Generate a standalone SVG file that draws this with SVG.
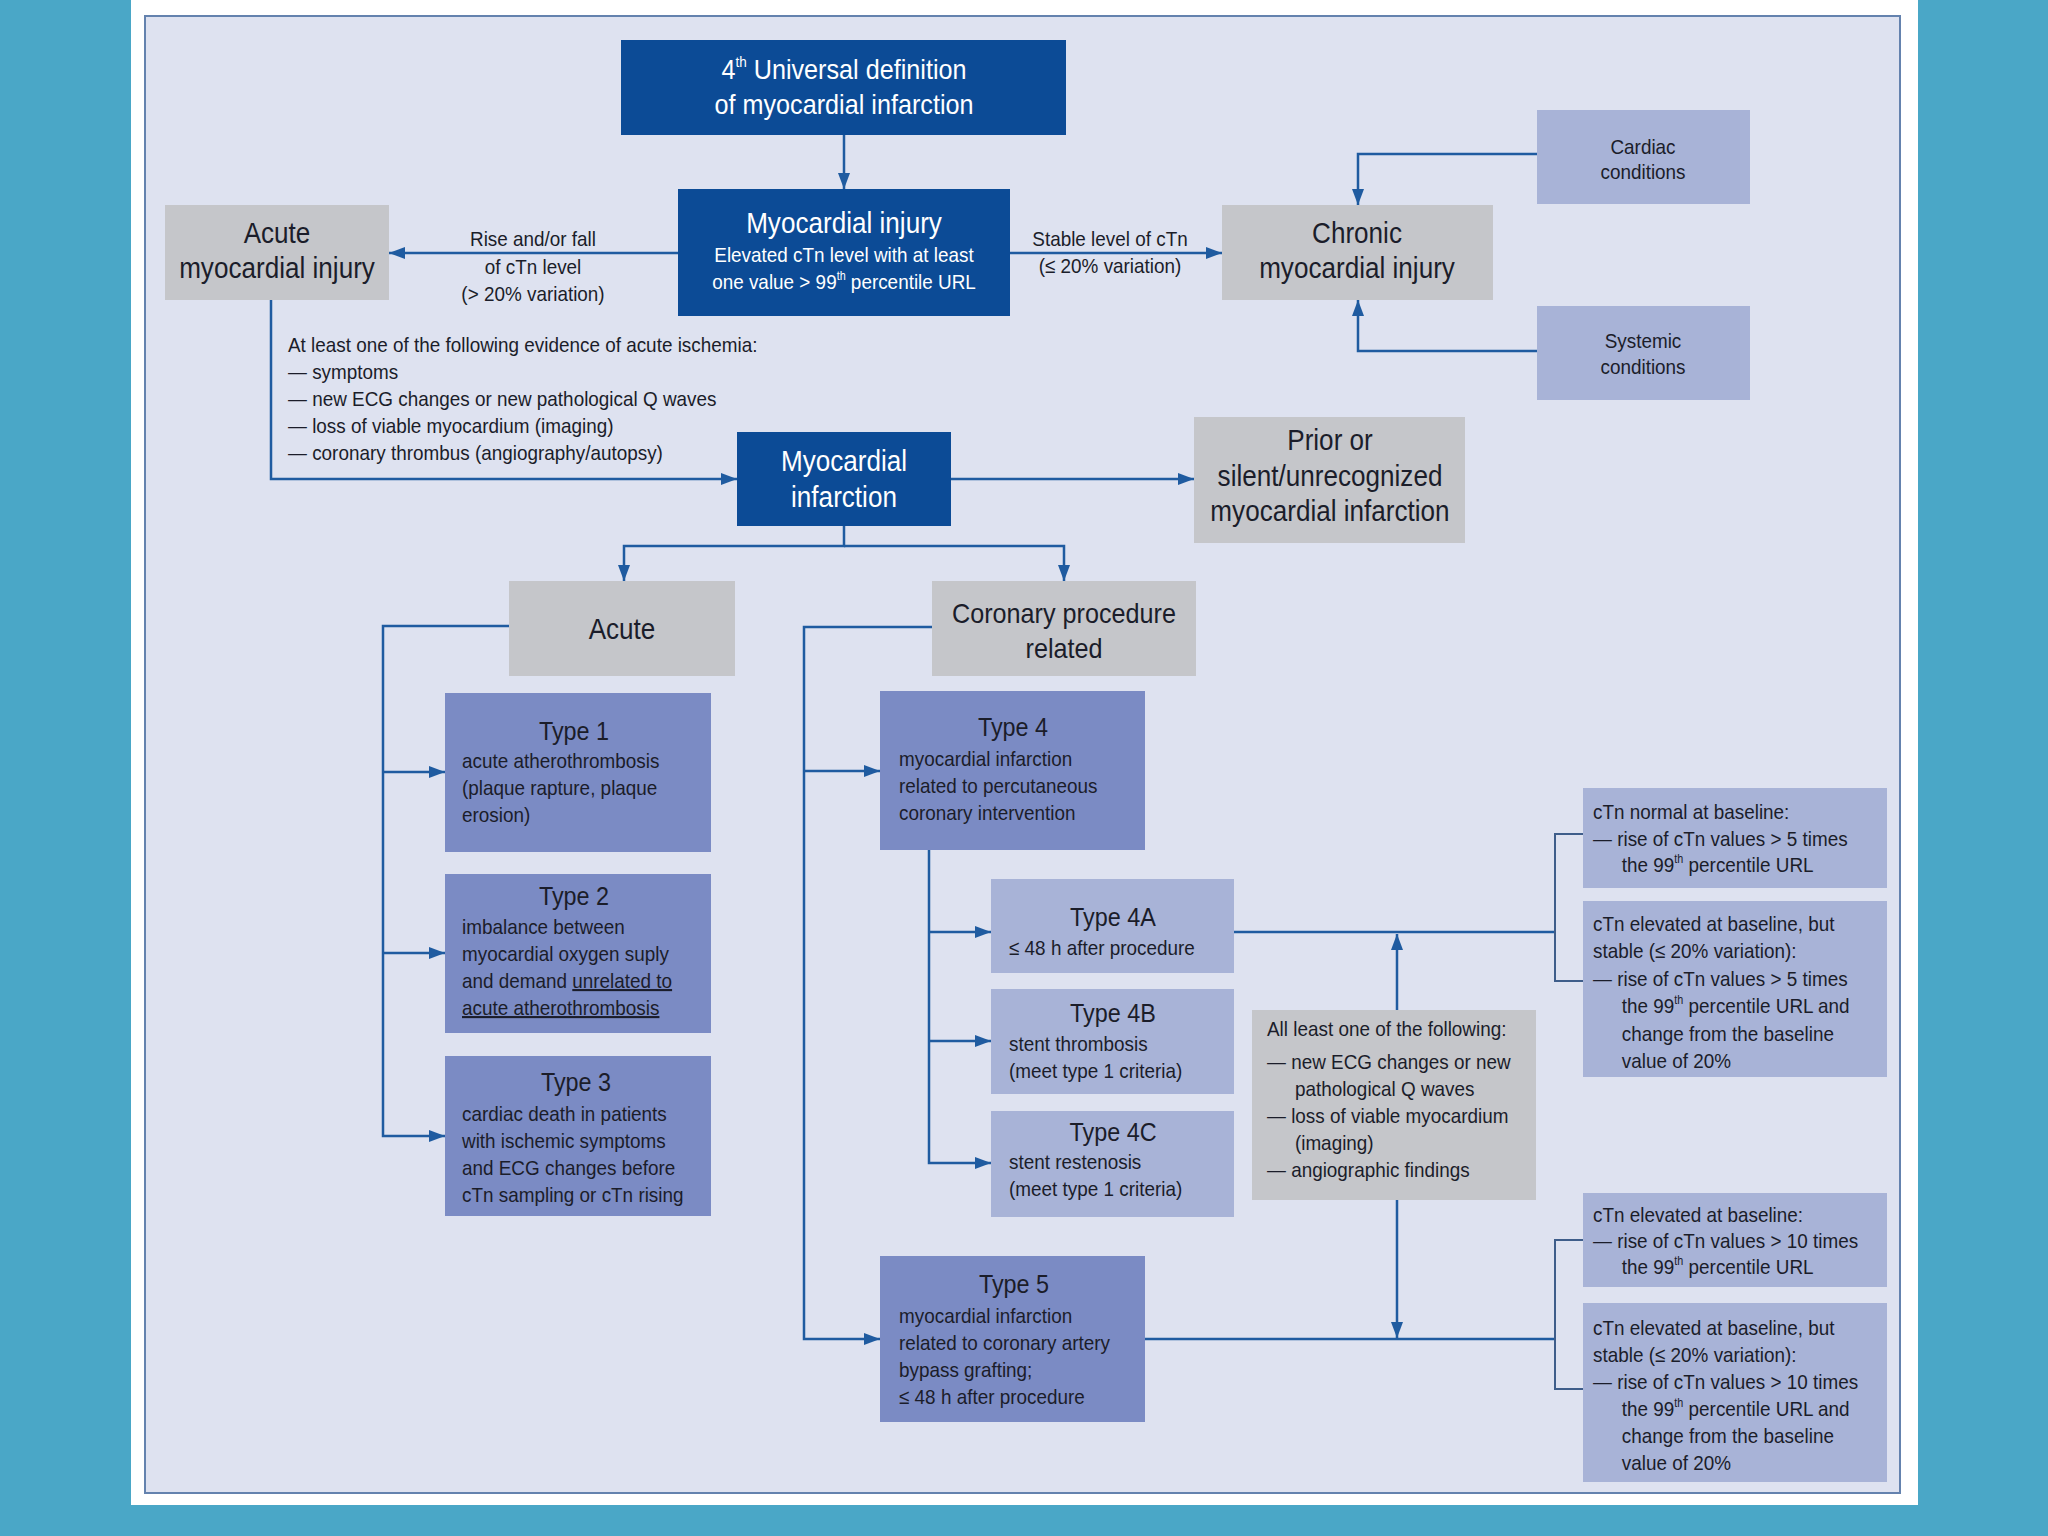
<svg xmlns="http://www.w3.org/2000/svg" width="2048" height="1536" viewBox="0 0 2048 1536">
<defs>
<style>
.t{font-family:"Liberation Sans",Arial,sans-serif}
.w{fill:#ffffff}
.d{fill:#1b1d2a}
.c{text-anchor:middle}
.dark{fill:#0c4b96}
.gray{fill:#c5c6ca}
.med{fill:#7b8bc4}
.lite{fill:#a8b3d7}
.ln{fill:none;stroke:#1f5ba0;stroke-width:2.5}
.br{fill:none;stroke:#3e5d8a;stroke-width:2}
</style>
<marker id="ah" viewBox="0 0 16 12" refX="16" refY="6" markerWidth="16" markerHeight="12" orient="auto" markerUnits="userSpaceOnUse">
<path d="M0,0 L16,6 L0,12 Z" fill="#1f5ba0"/>
</marker>
</defs>
<rect width="2048" height="1536" fill="#4aa7c7"/>
<rect x="131" y="0" width="1787" height="1505" fill="#ffffff"/>
<rect x="145" y="16" width="1755" height="1477" fill="#dee2f0" stroke="#6482ae" stroke-width="2"/>

<g id="connectors">
<line class="ln" x1="844" y1="135" x2="844" y2="189" marker-end="url(#ah)"/>
<line class="ln" x1="678" y1="253" x2="389" y2="253" marker-end="url(#ah)"/>
<line class="ln" x1="1010" y1="253" x2="1222" y2="253" marker-end="url(#ah)"/>
<polyline class="ln" points="1537,154 1358,154 1358,205" marker-end="url(#ah)"/>
<polyline class="ln" points="1537,351 1358,351 1358,300" marker-end="url(#ah)"/>
<polyline class="ln" points="271,300 271,479 737,479" marker-end="url(#ah)"/>
<line class="ln" x1="951" y1="479" x2="1194" y2="479" marker-end="url(#ah)"/>
<polyline class="ln" points="844,526 844,546 624,546 624,581" marker-end="url(#ah)"/>
<polyline class="ln" points="844,546 1064,546 1064,581" marker-end="url(#ah)"/>
<polyline class="ln" points="509,626 383,626 383,1136 445,1136" marker-end="url(#ah)"/>
<line class="ln" x1="383" y1="772" x2="445" y2="772" marker-end="url(#ah)"/>
<line class="ln" x1="383" y1="953" x2="445" y2="953" marker-end="url(#ah)"/>
<polyline class="ln" points="932,627 804,627 804,1339 880,1339" marker-end="url(#ah)"/>
<line class="ln" x1="804" y1="771" x2="880" y2="771" marker-end="url(#ah)"/>
<polyline class="ln" points="929,850 929,1163 991,1163" marker-end="url(#ah)"/>
<line class="ln" x1="929" y1="932" x2="991" y2="932" marker-end="url(#ah)"/>
<line class="ln" x1="929" y1="1041" x2="991" y2="1041" marker-end="url(#ah)"/>
<line class="ln" x1="1234" y1="932" x2="1555" y2="932"/>
<polyline class="br" points="1583,834 1555,834 1555,981 1583,981"/>
<line class="ln" x1="1397" y1="1010" x2="1397" y2="934" marker-end="url(#ah)"/>
<line class="ln" x1="1397" y1="1200" x2="1397" y2="1338" marker-end="url(#ah)"/>
<line class="ln" x1="1145" y1="1339" x2="1555" y2="1339"/>
<polyline class="br" points="1583,1240 1555,1240 1555,1389 1583,1389"/>
</g>

<g id="title">
<rect class="dark" x="621" y="40" width="445" height="95"/>
<text class="t w c" font-size="28" transform="translate(844 0) scale(0.9 1)"><tspan x="0" y="79">4<tspan font-size="15" dy="-12">th</tspan><tspan dy="12"> Universal definition</tspan></tspan><tspan x="0" y="114">of myocardial infarction</tspan></text>
</g>

<g id="myocardial-injury">
<rect class="dark" x="678" y="189" width="332" height="127"/>
<text class="t w c" font-size="29" transform="translate(844 0) scale(0.9 1)"><tspan x="0" y="233">Myocardial injury</tspan></text>
<text class="t w c" font-size="21" transform="translate(844 0) scale(0.9 1)"><tspan x="0" y="262">Elevated cTn level with at least</tspan><tspan x="0" y="289">one value &gt; 99<tspan font-size="12" dy="-9">th</tspan><tspan dy="9"> percentile URL</tspan></tspan></text>
</g>

<g id="acute-myocardial-injury">
<rect class="gray" x="165" y="205" width="224" height="95"/>
<text class="t d c" font-size="29" transform="translate(277 0) scale(0.9 1)"><tspan x="0" y="243">Acute</tspan><tspan x="0" y="278">myocardial injury</tspan></text>
</g>

<g id="label-rise">
<text class="t d c" font-size="21" transform="translate(533 0) scale(0.9 1)"><tspan x="0" y="246">Rise and/or fall</tspan><tspan x="0" y="274">of cTn level</tspan><tspan x="0" y="301">(&gt; 20% variation)</tspan></text>
</g>

<g id="label-stable">
<text class="t d c" font-size="21" transform="translate(1110 0) scale(0.9 1)"><tspan x="0" y="246">Stable level of cTn</tspan><tspan x="0" y="273">(≤ 20% variation)</tspan></text>
</g>

<g id="chronic-myocardial-injury">
<rect class="gray" x="1222" y="205" width="271" height="95"/>
<text class="t d c" font-size="29" transform="translate(1357 0) scale(0.9 1)"><tspan x="0" y="243">Chronic</tspan><tspan x="0" y="278">myocardial injury</tspan></text>
</g>

<g id="cardiac-conditions">
<rect class="lite" x="1537" y="110" width="213" height="94"/>
<text class="t d c" font-size="21" transform="translate(1643 0) scale(0.9 1)"><tspan x="0" y="154">Cardiac</tspan><tspan x="0" y="179">conditions</tspan></text>
</g>

<g id="systemic-conditions">
<rect class="lite" x="1537" y="306" width="213" height="94"/>
<text class="t d c" font-size="21" transform="translate(1643 0) scale(0.9 1)"><tspan x="0" y="348">Systemic</tspan><tspan x="0" y="374">conditions</tspan></text>
</g>

<g id="label-evidence">
<text class="t d" font-size="21" transform="translate(288 0) scale(0.9 1)"><tspan x="0" y="352">At least one of the following evidence of acute ischemia:</tspan><tspan x="0" y="379">— symptoms</tspan><tspan x="0" y="406">— new ECG changes or new pathological Q waves</tspan><tspan x="0" y="433">— loss of viable myocardium (imaging)</tspan><tspan x="0" y="460">— coronary thrombus (angiography/autopsy)</tspan></text>
</g>

<g id="myocardial-infarction">
<rect class="dark" x="737" y="432" width="214" height="94"/>
<text class="t w c" font-size="29" transform="translate(844 0) scale(0.9 1)"><tspan x="0" y="471">Myocardial</tspan><tspan x="0" y="507">infarction</tspan></text>
</g>

<g id="prior-mi">
<rect class="gray" x="1194" y="417" width="271" height="126"/>
<text class="t d c" font-size="29" transform="translate(1330 0) scale(0.9 1)"><tspan x="0" y="450">Prior or</tspan><tspan x="0" y="486">silent/unrecognized</tspan><tspan x="0" y="521">myocardial infarction</tspan></text>
</g>

<g id="acute">
<rect class="gray" x="509" y="581" width="226" height="95"/>
<text class="t d c" font-size="29" transform="translate(622 0) scale(0.9 1)"><tspan x="0" y="639">Acute</tspan></text>
</g>

<g id="coronary-procedure">
<rect class="gray" x="932" y="581" width="264" height="95"/>
<text class="t d c" font-size="28" transform="translate(1064 0) scale(0.9 1)"><tspan x="0" y="623">Coronary procedure</tspan><tspan x="0" y="658">related</tspan></text>
</g>

<g id="type1">
<rect class="med" x="445" y="693" width="266" height="159"/>
<text class="t d c" font-size="26" transform="translate(574 0) scale(0.9 1)"><tspan x="0" y="740">Type 1</tspan></text>
<text class="t d" font-size="21" transform="translate(462 0) scale(0.9 1)"><tspan x="0" y="768">acute atherothrombosis</tspan><tspan x="0" y="795">(plaque rapture, plaque</tspan><tspan x="0" y="822">erosion)</tspan></text>
</g>

<g id="type2">
<rect class="med" x="445" y="874" width="266" height="159"/>
<text class="t d c" font-size="26" transform="translate(574 0) scale(0.9 1)"><tspan x="0" y="905">Type 2</tspan></text>
<text class="t d" font-size="21" transform="translate(462 0) scale(0.9 1)"><tspan x="0" y="934">imbalance between</tspan><tspan x="0" y="961">myocardial oxygen suply</tspan><tspan x="0" y="988">and demand <tspan text-decoration="underline">unrelated to</tspan></tspan><tspan x="0" y="1015" text-decoration="underline">acute atherothrombosis</tspan></text>
</g>

<g id="type3">
<rect class="med" x="445" y="1056" width="266" height="160"/>
<text class="t d c" font-size="26" transform="translate(576 0) scale(0.9 1)"><tspan x="0" y="1091">Type 3</tspan></text>
<text class="t d" font-size="21" transform="translate(462 0) scale(0.9 1)"><tspan x="0" y="1121">cardiac death in patients</tspan><tspan x="0" y="1148">with ischemic symptoms</tspan><tspan x="0" y="1175">and ECG changes before</tspan><tspan x="0" y="1202">cTn sampling or cTn rising</tspan></text>
</g>

<g id="type4">
<rect class="med" x="880" y="691" width="265" height="159"/>
<text class="t d c" font-size="26" transform="translate(1013 0) scale(0.9 1)"><tspan x="0" y="736">Type 4</tspan></text>
<text class="t d" font-size="21" transform="translate(899 0) scale(0.9 1)"><tspan x="0" y="766">myocardial infarction</tspan><tspan x="0" y="793">related to percutaneous</tspan><tspan x="0" y="820">coronary intervention</tspan></text>
</g>

<g id="type4a">
<rect class="lite" x="991" y="879" width="243" height="94"/>
<text class="t d c" font-size="26" transform="translate(1113 0) scale(0.9 1)"><tspan x="0" y="926">Type 4A</tspan></text>
<text class="t d" font-size="21" transform="translate(1009 0) scale(0.9 1)"><tspan x="0" y="955">≤ 48 h after procedure</tspan></text>
</g>

<g id="type4b">
<rect class="lite" x="991" y="989" width="243" height="105"/>
<text class="t d c" font-size="26" transform="translate(1113 0) scale(0.9 1)"><tspan x="0" y="1022">Type 4B</tspan></text>
<text class="t d" font-size="21" transform="translate(1009 0) scale(0.9 1)"><tspan x="0" y="1051">stent thrombosis</tspan><tspan x="0" y="1078">(meet type 1 criteria)</tspan></text>
</g>

<g id="type4c">
<rect class="lite" x="991" y="1111" width="243" height="106"/>
<text class="t d c" font-size="26" transform="translate(1113 0) scale(0.9 1)"><tspan x="0" y="1141">Type 4C</tspan></text>
<text class="t d" font-size="21" transform="translate(1009 0) scale(0.9 1)"><tspan x="0" y="1169">stent restenosis</tspan><tspan x="0" y="1196">(meet type 1 criteria)</tspan></text>
</g>

<g id="type5">
<rect class="med" x="880" y="1256" width="265" height="166"/>
<text class="t d c" font-size="26" transform="translate(1014 0) scale(0.9 1)"><tspan x="0" y="1293">Type 5</tspan></text>
<text class="t d" font-size="21" transform="translate(899 0) scale(0.9 1)"><tspan x="0" y="1323">myocardial infarction</tspan><tspan x="0" y="1350">related to coronary artery</tspan><tspan x="0" y="1377">bypass grafting;</tspan><tspan x="0" y="1404">≤ 48 h after procedure</tspan></text>
</g>

<g id="all-least">
<rect class="gray" x="1252" y="1010" width="284" height="190"/>
<text class="t d" font-size="21" transform="translate(1267 0) scale(0.9 1)"><tspan x="0" y="1036">All least one of the following:</tspan><tspan x="0" y="1069">— new ECG changes or new</tspan><tspan x="31" y="1096">pathological Q waves</tspan><tspan x="0" y="1123">— loss of viable myocardium</tspan><tspan x="31" y="1150">(imaging)</tspan><tspan x="0" y="1177">— angiographic findings</tspan></text>
</g>

<g id="criteria-4a-normal">
<rect class="lite" x="1583" y="788" width="304" height="100"/>
<text class="t d" font-size="21" transform="translate(1593 0) scale(0.9 1)"><tspan x="0" y="819">cTn normal at baseline:</tspan><tspan x="0" y="846">— rise of cTn values &gt; 5 times</tspan><tspan x="32" y="872">the 99<tspan font-size="12" dy="-9">th</tspan><tspan dy="9"> percentile URL</tspan></tspan></text>
</g>

<g id="criteria-4a-elevated">
<rect class="lite" x="1583" y="901" width="304" height="176"/>
<text class="t d" font-size="21" transform="translate(1593 0) scale(0.9 1)"><tspan x="0" y="931">cTn elevated at baseline, but</tspan><tspan x="0" y="958">stable (≤ 20% variation):</tspan><tspan x="0" y="986">— rise of cTn values &gt; 5 times</tspan><tspan x="32" y="1013">the 99<tspan font-size="12" dy="-9">th</tspan><tspan dy="9"> percentile URL and</tspan></tspan><tspan x="32" y="1041">change from the baseline</tspan><tspan x="32" y="1068">value of 20%</tspan></text>
</g>

<g id="criteria-5-elevated">
<rect class="lite" x="1583" y="1193" width="304" height="94"/>
<text class="t d" font-size="21" transform="translate(1593 0) scale(0.9 1)"><tspan x="0" y="1222">cTn elevated at baseline:</tspan><tspan x="0" y="1248">— rise of cTn values &gt; 10 times</tspan><tspan x="32" y="1274">the 99<tspan font-size="12" dy="-9">th</tspan><tspan dy="9"> percentile URL</tspan></tspan></text>
</g>

<g id="criteria-5-stable">
<rect class="lite" x="1583" y="1303" width="304" height="179"/>
<text class="t d" font-size="21" transform="translate(1593 0) scale(0.9 1)"><tspan x="0" y="1335">cTn elevated at baseline, but</tspan><tspan x="0" y="1362">stable (≤ 20% variation):</tspan><tspan x="0" y="1389">— rise of cTn values &gt; 10 times</tspan><tspan x="32" y="1416">the 99<tspan font-size="12" dy="-9">th</tspan><tspan dy="9"> percentile URL and</tspan></tspan><tspan x="32" y="1443">change from the baseline</tspan><tspan x="32" y="1470">value of 20%</tspan></text>
</g>
</svg>
